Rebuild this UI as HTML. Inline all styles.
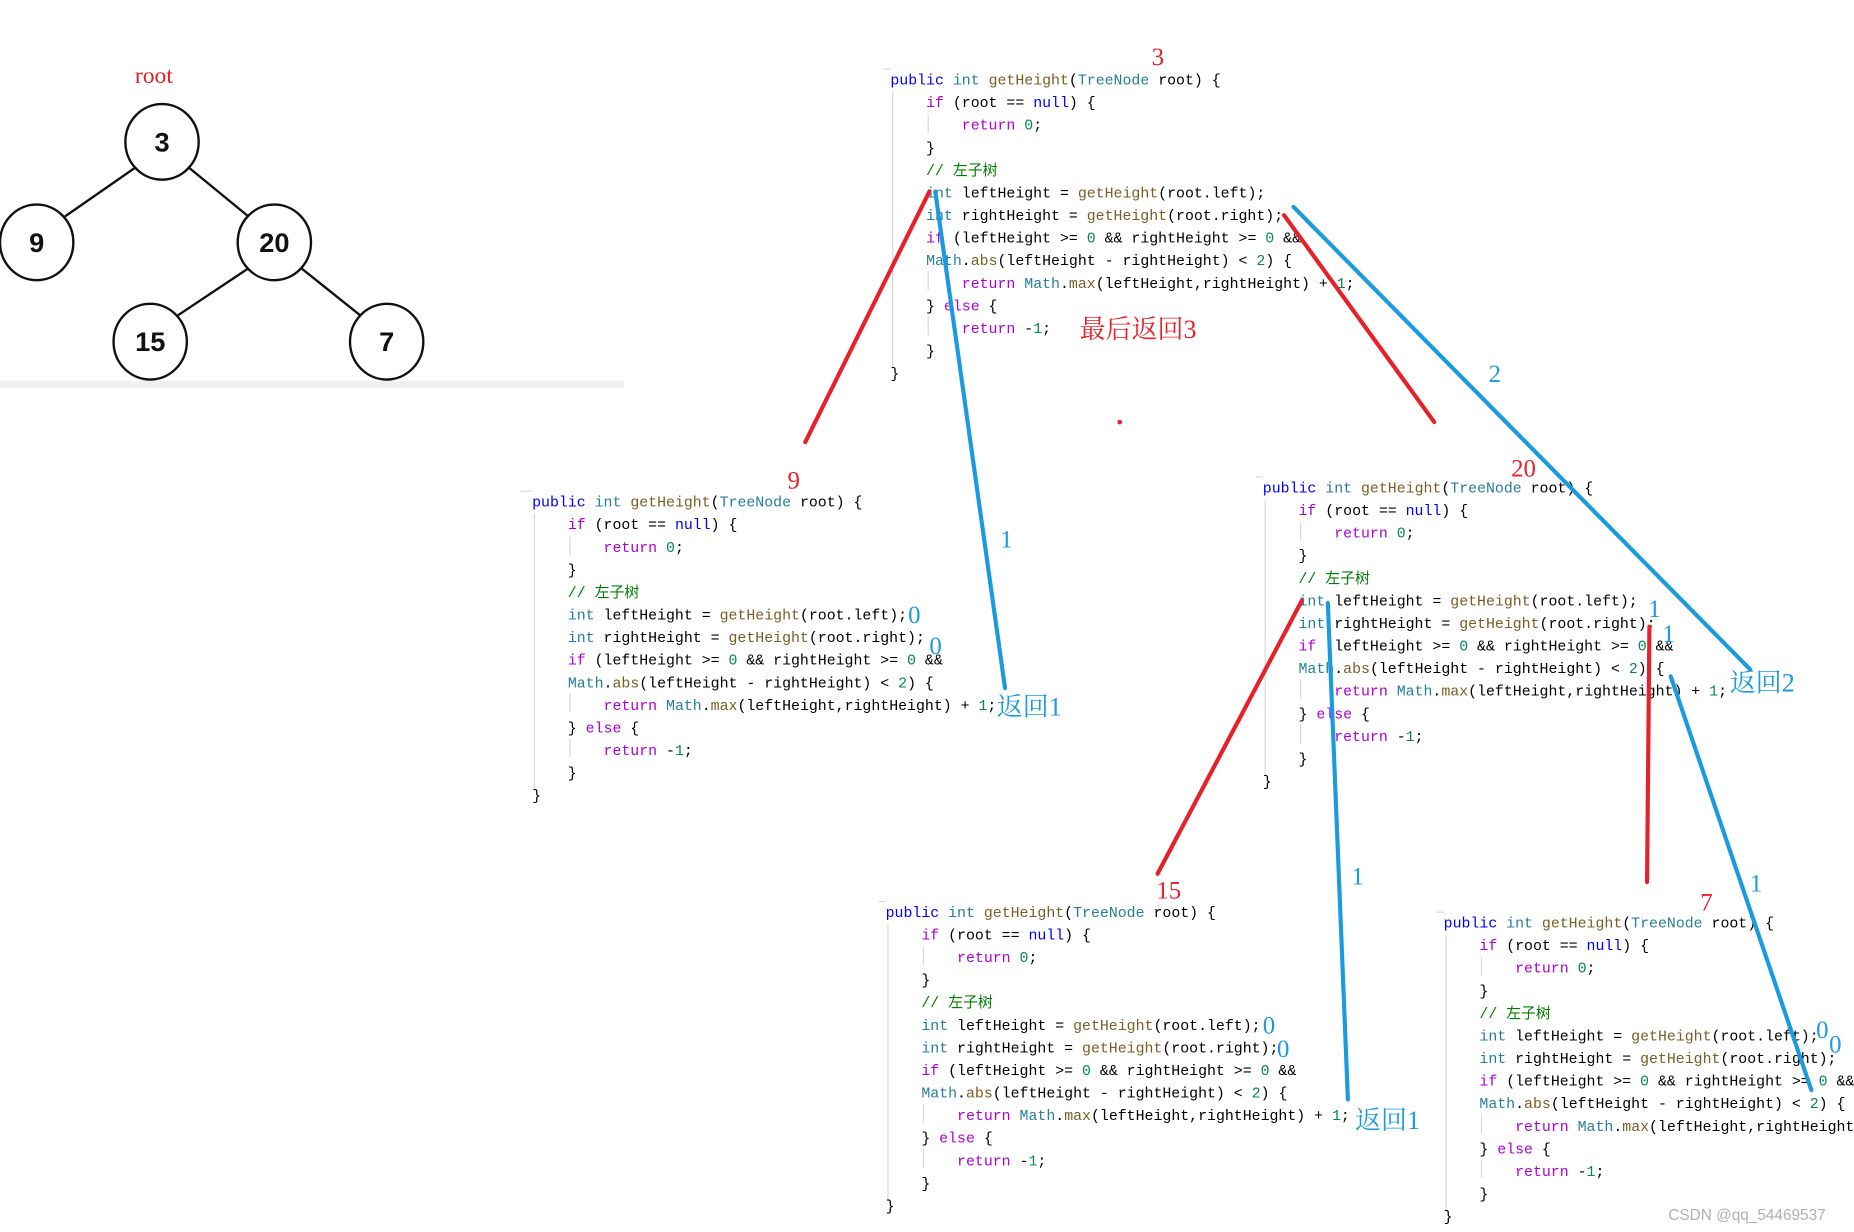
<!DOCTYPE html>
<html><head><meta charset="utf-8"><style>
html,body{margin:0;padding:0;background:#fff;width:1854px;height:1232px;overflow:hidden}
svg{display:block}
.c{font-family:"Liberation Mono","Noto Sans CJK SC",monospace;font-size:12.6px;fill:#000}
.k{fill:#0000ff}.t{fill:#267f99}.f{fill:#795e26}.p{fill:#af00db}.n{fill:#098658}.m{fill:#008000}
.r{font-family:"Liberation Serif","Noto Serif CJK SC",serif;fill:#e8202a}
.b{font-family:"Liberation Serif","Noto Serif CJK SC",serif;fill:#1a9be0}
.g{stroke:#d8d8d8;stroke-width:1}
</style></head><body>
<svg width="1854" height="1232" viewBox="0 0 1568 1042" xmlns="http://www.w3.org/2000/svg">
<!-- tree -->
<rect x="0" y="322" width="528" height="6" fill="#f0f0f2"/>
<g stroke="#111" stroke-width="2" fill="none">
<line x1="114" y1="142" x2="55" y2="183"/><line x1="160" y1="142" x2="210" y2="183"/>
<line x1="210" y1="227" x2="150" y2="267"/><line x1="255" y1="227" x2="305" y2="267"/>
<ellipse cx="137" cy="120" rx="31" ry="32"/><ellipse cx="31" cy="205" rx="31" ry="32"/>
<ellipse cx="232" cy="205" rx="31" ry="32"/><ellipse cx="127" cy="289" rx="31" ry="32"/>
<ellipse cx="327" cy="289" rx="31" ry="32"/>
</g>
<g font-family="Liberation Sans,sans-serif" font-weight="bold" font-size="23" text-anchor="middle" fill="#111">
<text x="137" y="128">3</text><text x="31" y="213">9</text><text x="232" y="213">20</text><text x="127" y="297">15</text><text x="327" y="297">7</text>
</g>
<text class="r" x="114" y="70" font-size="20">root</text>

<!-- block 1 -->
<g transform="translate(753,71.5)">
<line class="g" x1="-6" y1="-13" x2="0" y2="-13"/>
<line class="g" x1="2" y1="6" x2="2" y2="240"/>
<line class="g" x1="32" y1="25" x2="32" y2="41"/><line class="g" x1="32" y1="158" x2="32" y2="174"/><line class="g" x1="32" y1="196" x2="32" y2="212"/>
<text class="c" xml:space="preserve"><tspan x="0" y="0"><tspan class="k">public</tspan> <tspan class="t">int</tspan> <tspan class="f">getHeight</tspan>(<tspan class="t">TreeNode</tspan> root) {</tspan><tspan x="0" y="19.1">    <tspan class="p">if</tspan> (root == <tspan class="k">null</tspan>) {</tspan><tspan x="0" y="38.2">        <tspan class="p">return</tspan> <tspan class="n">0</tspan>;</tspan><tspan x="0" y="57.3">    }</tspan><tspan x="0" y="76.4" class="m">    // 左子树</tspan><tspan x="0" y="95.5">    <tspan class="t">int</tspan> leftHeight = <tspan class="f">getHeight</tspan>(root.left);</tspan><tspan x="0" y="114.6">    <tspan class="t">int</tspan> rightHeight = <tspan class="f">getHeight</tspan>(root.right);</tspan><tspan x="0" y="133.7">    <tspan class="p">if</tspan> (leftHeight &gt;= <tspan class="n">0</tspan> &amp;&amp; rightHeight &gt;= <tspan class="n">0</tspan> &amp;&amp;</tspan><tspan x="0" y="152.8">    <tspan class="t">Math</tspan>.<tspan class="f">abs</tspan>(leftHeight - rightHeight) &lt; <tspan class="n">2</tspan>) {</tspan><tspan x="0" y="171.9">        <tspan class="p">return</tspan> <tspan class="t">Math</tspan>.<tspan class="f">max</tspan>(leftHeight,rightHeight) + <tspan class="n">1</tspan>;</tspan><tspan x="0" y="191">    } <tspan class="p">else</tspan> {</tspan><tspan x="0" y="210.1">        <tspan class="p">return</tspan> -<tspan class="n">1</tspan>;</tspan><tspan x="0" y="229.2">    }</tspan><tspan x="0" y="248.3">}</tspan></text>
</g>

<!-- block 2 (9) -->
<g transform="translate(450,428.5)">
<line class="g" x1="-10" y1="-13" x2="0" y2="-13"/>
<line class="g" x1="2" y1="6" x2="2" y2="240"/>
<line class="g" x1="32" y1="25" x2="32" y2="41"/><line class="g" x1="32" y1="158" x2="32" y2="174"/><line class="g" x1="32" y1="196" x2="32" y2="212"/>
<text class="c" xml:space="preserve"><tspan x="0" y="0"><tspan class="k">public</tspan> <tspan class="t">int</tspan> <tspan class="f">getHeight</tspan>(<tspan class="t">TreeNode</tspan> root) {</tspan><tspan x="0" y="19.1">    <tspan class="p">if</tspan> (root == <tspan class="k">null</tspan>) {</tspan><tspan x="0" y="38.2">        <tspan class="p">return</tspan> <tspan class="n">0</tspan>;</tspan><tspan x="0" y="57.3">    }</tspan><tspan x="0" y="76.4" class="m">    // 左子树</tspan><tspan x="0" y="95.5">    <tspan class="t">int</tspan> leftHeight = <tspan class="f">getHeight</tspan>(root.left);</tspan><tspan x="0" y="114.6">    <tspan class="t">int</tspan> rightHeight = <tspan class="f">getHeight</tspan>(root.right);</tspan><tspan x="0" y="133.7">    <tspan class="p">if</tspan> (leftHeight &gt;= <tspan class="n">0</tspan> &amp;&amp; rightHeight &gt;= <tspan class="n">0</tspan> &amp;&amp;</tspan><tspan x="0" y="152.8">    <tspan class="t">Math</tspan>.<tspan class="f">abs</tspan>(leftHeight - rightHeight) &lt; <tspan class="n">2</tspan>) {</tspan><tspan x="0" y="171.9">        <tspan class="p">return</tspan> <tspan class="t">Math</tspan>.<tspan class="f">max</tspan>(leftHeight,rightHeight) + <tspan class="n">1</tspan>;</tspan><tspan x="0" y="191">    } <tspan class="p">else</tspan> {</tspan><tspan x="0" y="210.1">        <tspan class="p">return</tspan> -<tspan class="n">1</tspan>;</tspan><tspan x="0" y="229.2">    }</tspan><tspan x="0" y="248.3">}</tspan></text>
</g>

<!-- block 3 (20) -->
<g transform="translate(1068,416.5)">
<line class="g" x1="-6" y1="-13" x2="0" y2="-13"/>
<line class="g" x1="2" y1="6" x2="2" y2="240"/>
<line class="g" x1="32" y1="25" x2="32" y2="41"/><line class="g" x1="32" y1="158" x2="32" y2="174"/><line class="g" x1="32" y1="196" x2="32" y2="212"/>
<text class="c" xml:space="preserve"><tspan x="0" y="0"><tspan class="k">public</tspan> <tspan class="t">int</tspan> <tspan class="f">getHeight</tspan>(<tspan class="t">TreeNode</tspan> root) {</tspan><tspan x="0" y="19.1">    <tspan class="p">if</tspan> (root == <tspan class="k">null</tspan>) {</tspan><tspan x="0" y="38.2">        <tspan class="p">return</tspan> <tspan class="n">0</tspan>;</tspan><tspan x="0" y="57.3">    }</tspan><tspan x="0" y="76.4" class="m">    // 左子树</tspan><tspan x="0" y="95.5">    <tspan class="t">int</tspan> leftHeight = <tspan class="f">getHeight</tspan>(root.left);</tspan><tspan x="0" y="114.6">    <tspan class="t">int</tspan> rightHeight = <tspan class="f">getHeight</tspan>(root.right);</tspan><tspan x="0" y="133.7">    <tspan class="p">if</tspan> (leftHeight &gt;= <tspan class="n">0</tspan> &amp;&amp; rightHeight &gt;= <tspan class="n">0</tspan> &amp;&amp;</tspan><tspan x="0" y="152.8">    <tspan class="t">Math</tspan>.<tspan class="f">abs</tspan>(leftHeight - rightHeight) &lt; <tspan class="n">2</tspan>) {</tspan><tspan x="0" y="171.9">        <tspan class="p">return</tspan> <tspan class="t">Math</tspan>.<tspan class="f">max</tspan>(leftHeight,rightHeight) + <tspan class="n">1</tspan>;</tspan><tspan x="0" y="191">    } <tspan class="p">else</tspan> {</tspan><tspan x="0" y="210.1">        <tspan class="p">return</tspan> -<tspan class="n">1</tspan>;</tspan><tspan x="0" y="229.2">    }</tspan><tspan x="0" y="248.3">}</tspan></text>
</g>

<!-- block 4 (15) -->
<g transform="translate(749,775.5)">
<line class="g" x1="-6" y1="-13" x2="0" y2="-13"/>
<line class="g" x1="2" y1="6" x2="2" y2="240"/>
<line class="g" x1="32" y1="25" x2="32" y2="41"/><line class="g" x1="32" y1="158" x2="32" y2="174"/><line class="g" x1="32" y1="196" x2="32" y2="212"/>
<text class="c" xml:space="preserve"><tspan x="0" y="0"><tspan class="k">public</tspan> <tspan class="t">int</tspan> <tspan class="f">getHeight</tspan>(<tspan class="t">TreeNode</tspan> root) {</tspan><tspan x="0" y="19.1">    <tspan class="p">if</tspan> (root == <tspan class="k">null</tspan>) {</tspan><tspan x="0" y="38.2">        <tspan class="p">return</tspan> <tspan class="n">0</tspan>;</tspan><tspan x="0" y="57.3">    }</tspan><tspan x="0" y="76.4" class="m">    // 左子树</tspan><tspan x="0" y="95.5">    <tspan class="t">int</tspan> leftHeight = <tspan class="f">getHeight</tspan>(root.left);</tspan><tspan x="0" y="114.6">    <tspan class="t">int</tspan> rightHeight = <tspan class="f">getHeight</tspan>(root.right);</tspan><tspan x="0" y="133.7">    <tspan class="p">if</tspan> (leftHeight &gt;= <tspan class="n">0</tspan> &amp;&amp; rightHeight &gt;= <tspan class="n">0</tspan> &amp;&amp;</tspan><tspan x="0" y="152.8">    <tspan class="t">Math</tspan>.<tspan class="f">abs</tspan>(leftHeight - rightHeight) &lt; <tspan class="n">2</tspan>) {</tspan><tspan x="0" y="171.9">        <tspan class="p">return</tspan> <tspan class="t">Math</tspan>.<tspan class="f">max</tspan>(leftHeight,rightHeight) + <tspan class="n">1</tspan>;</tspan><tspan x="0" y="191">    } <tspan class="p">else</tspan> {</tspan><tspan x="0" y="210.1">        <tspan class="p">return</tspan> -<tspan class="n">1</tspan>;</tspan><tspan x="0" y="229.2">    }</tspan><tspan x="0" y="248.3">}</tspan></text>
</g>

<!-- block 5 (7) -->
<g transform="translate(1221,784.5)">
<line class="g" x1="-6" y1="-13" x2="0" y2="-13"/>
<line class="g" x1="2" y1="6" x2="2" y2="240"/>
<line class="g" x1="32" y1="25" x2="32" y2="41"/><line class="g" x1="32" y1="158" x2="32" y2="174"/><line class="g" x1="32" y1="196" x2="32" y2="212"/>
<text class="c" xml:space="preserve"><tspan x="0" y="0"><tspan class="k">public</tspan> <tspan class="t">int</tspan> <tspan class="f">getHeight</tspan>(<tspan class="t">TreeNode</tspan> root) {</tspan><tspan x="0" y="19.1">    <tspan class="p">if</tspan> (root == <tspan class="k">null</tspan>) {</tspan><tspan x="0" y="38.2">        <tspan class="p">return</tspan> <tspan class="n">0</tspan>;</tspan><tspan x="0" y="57.3">    }</tspan><tspan x="0" y="76.4" class="m">    // 左子树</tspan><tspan x="0" y="95.5">    <tspan class="t">int</tspan> leftHeight = <tspan class="f">getHeight</tspan>(root.left);</tspan><tspan x="0" y="114.6">    <tspan class="t">int</tspan> rightHeight = <tspan class="f">getHeight</tspan>(root.right);</tspan><tspan x="0" y="133.7">    <tspan class="p">if</tspan> (leftHeight &gt;= <tspan class="n">0</tspan> &amp;&amp; rightHeight &gt;= <tspan class="n">0</tspan> &amp;&amp;</tspan><tspan x="0" y="152.8">    <tspan class="t">Math</tspan>.<tspan class="f">abs</tspan>(leftHeight - rightHeight) &lt; <tspan class="n">2</tspan>) {</tspan><tspan x="0" y="171.9">        <tspan class="p">return</tspan> <tspan class="t">Math</tspan>.<tspan class="f">max</tspan>(leftHeight,rightHeight) + <tspan class="n">1</tspan>;</tspan><tspan x="0" y="191">    } <tspan class="p">else</tspan> {</tspan><tspan x="0" y="210.1">        <tspan class="p">return</tspan> -<tspan class="n">1</tspan>;</tspan><tspan x="0" y="229.2">    }</tspan><tspan x="0" y="248.3">}</tspan></text>
</g>

<!-- red lines -->
<g stroke="#e8202a" stroke-width="3.5" stroke-linecap="round">
<line x1="786" y1="162" x2="681" y2="374"/>
<line x1="1086" y1="182" x2="1213" y2="357"/>
<line x1="1101" y1="508" x2="979" y2="739"/>
<line x1="1395" y1="530" x2="1393" y2="746"/>
</g>
<circle cx="947" cy="357" r="2" fill="#e8202a"/>
<!-- blue lines -->
<g stroke="#1a9be0" stroke-width="3.5" stroke-linecap="round">
<line x1="791" y1="162" x2="850" y2="582"/>
<line x1="1094" y1="175" x2="1480" y2="566"/>
<line x1="1123" y1="510" x2="1140" y2="930"/>
<line x1="1413" y1="572" x2="1532" y2="922"/>
</g>

<!-- red labels -->
<g class="r">
<text x="974" y="55" font-size="21">3</text>
<text x="913" y="286" font-size="22">最后返回3</text>
<text x="666" y="413" font-size="21">9</text>
<text x="1278" y="403" font-size="21">20</text>
<text x="978" y="760" font-size="21">15</text>
<text x="1438" y="770" font-size="21">7</text>
</g>
<!-- blue labels -->
<g class="b" font-size="21">
<text x="846" y="463">1</text>
<text x="843" y="605" font-size="22">返回1</text>
<text x="768" y="527">0</text>
<text x="786" y="553">0</text>
<text x="1259" y="323">2</text>
<text x="1394" y="522">1</text>
<text x="1406" y="543">1</text>
<text x="1463" y="585" font-size="22">返回2</text>
<text x="1143" y="748">1</text>
<text x="1146" y="955" font-size="22">返回1</text>
<text x="1068" y="874">0</text>
<text x="1080" y="894">0</text>
<text x="1480" y="754">1</text>
<text x="1536" y="878">0</text>
<text x="1547" y="890">0</text>
</g>
<text x="1411" y="1032" font-family="Liberation Sans,sans-serif" font-size="13" fill="#b0b0b0">CSDN @qq_54469537</text>
</svg>
</body></html>
